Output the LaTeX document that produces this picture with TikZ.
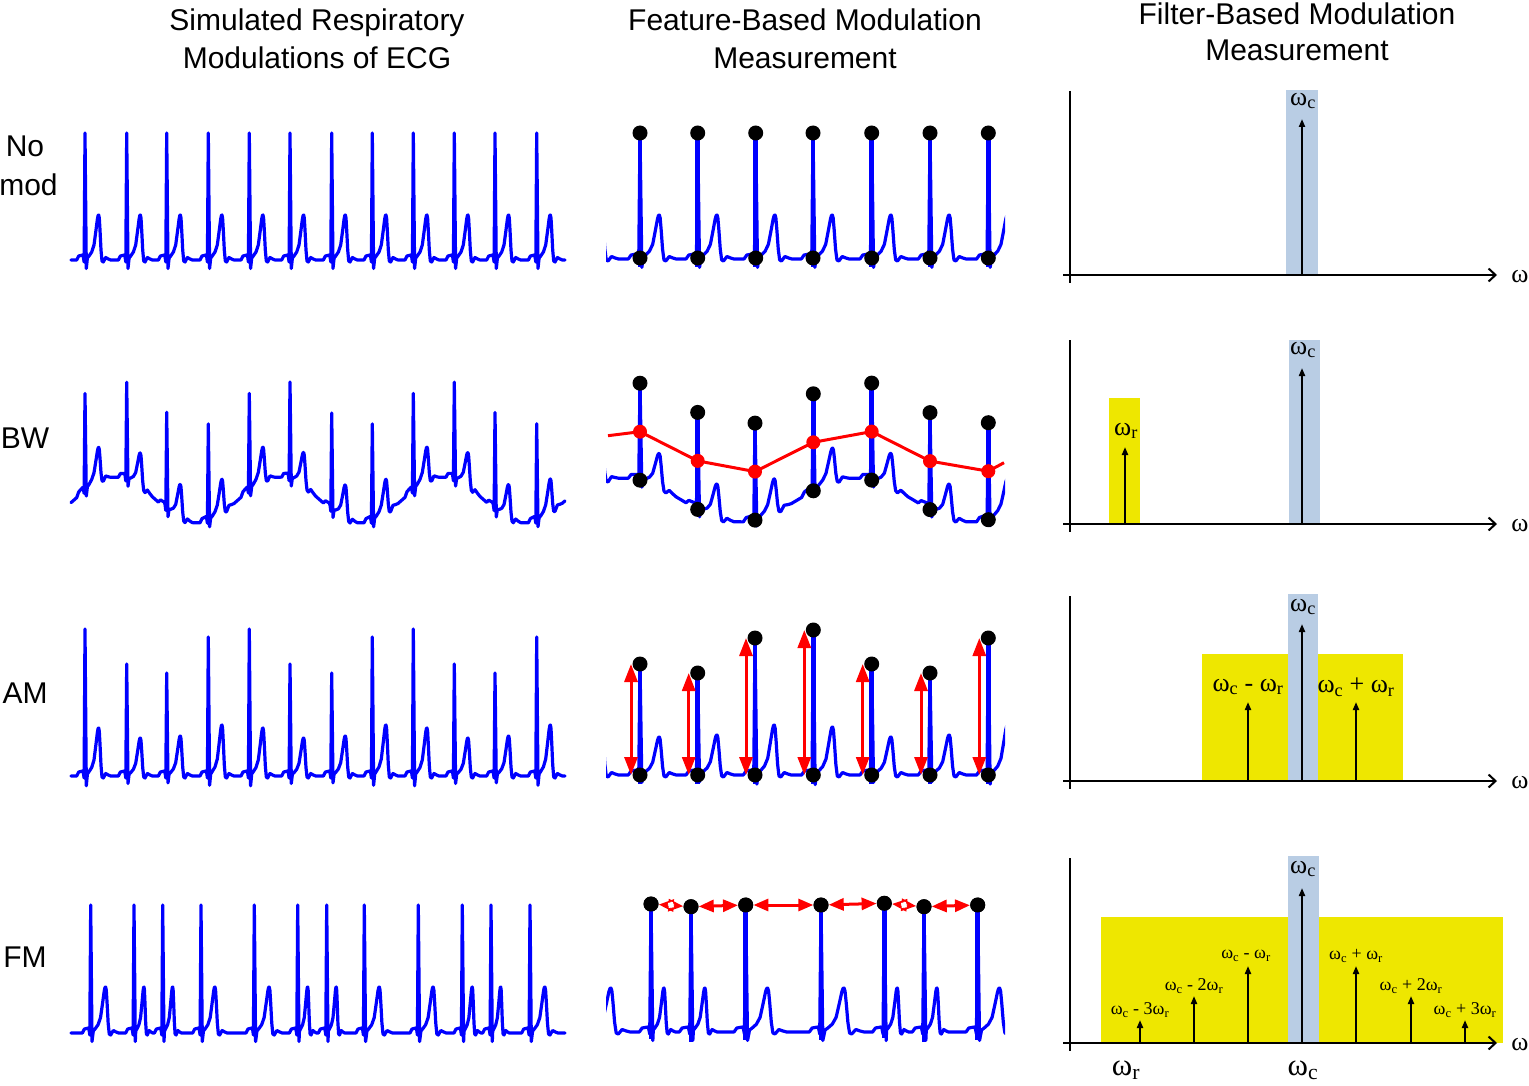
\documentclass[tikz,border=0pt]{standalone}
\usepackage{fontspec}
\setmainfont{Liberation Sans}
\newfontfamily\grk{Liberation Serif}
\usetikzlibrary{arrows.meta}
\definecolor{bandblue}{RGB}{185,205,228}
\definecolor{bandyel}{RGB}{238,231,0}
\newcommand\om[1]{ω\textsubscript{#1}}
% one ECG beat: #1 R position, #2 R amplitude, #3 T amplitude, #4 QRS x-scale, #5 T x-scale
\newcommand\bt[5]{%
 -- ({#1-8.3*#4},{blw(#1-8.3*#4)})
 -- ({#1-6.3*#4},{blw(#1-6.3*#4)-4})
 -- ({#1-2.3*#4},{blw(#1-2.3*#4)-5})
 -- ({#1-1.6*#4},{blw(#1-1.6*#4)-3})
 -- ({#1-0.9*#4},{blw(#1-0.9*#4)+2})
 -- ({#1},{blw(#1)-#2})
 -- ({#1+1.3*#4},{blw(#1+1.3*#4)+#2/15})
 -- ({#1+2.4*#5},{blw(#1+2.4*#5)-2})
 -- ({#1+4*#5},{blw(#1+4*#5)-4*#3/45})
 -- ({#1+6.7*#5},{blw(#1+6.7*#5)-8*#3/45})
 -- ({#1+9*#5},{blw(#1+9*#5)-15*#3/45})
 -- ({#1+11*#5},{blw(#1+11*#5)-30*#3/45})
 -- ({#1+12.4*#5},{blw(#1+12.4*#5)-41*#3/45})
 -- ({#1+13.1*#5},{blw(#1+13.1*#5)-44.5*#3/45})
 -- ({#1+13.7*#5},{blw(#1+13.7*#5)-#3})
 -- ({#1+14.3*#5},{blw(#1+14.3*#5)-42*#3/45})
 -- ({#1+15*#5},{blw(#1+15*#5)-30*#3/45})
 -- ({#1+16*#5},{blw(#1+16*#5)-10*#3/45})
 -- ({#1+17*#5},{blw(#1+17*#5)+1})
 -- ({#1+18.3*#5},{blw(#1+18.3*#5)+2})
 -- ({#1+20.7*#5},{blw(#1+20.7*#5)-2.5})
 -- ({#1+23.3*#5},{blw(#1+23.3*#5)-1})
 -- ({#1+25.7*#5},{blw(#1+25.7*#5)})
}
\tikzset{
 ecg/.style={blue, line width=3.2pt, line join=round, line cap=round},
 stem/.style={blue, line width=4.6pt},
 dot/.style={circle, fill=black, inner sep=0pt, minimum size=15pt},
 rdot/.style={circle, fill=red, inner sep=0pt, minimum size=14pt},
 redline/.style={red, line width=3pt, line join=round},
 amarr/.style={red, line width=3pt, <->, >={Triangle[length=18pt,width=13pt]}},
 fmarr/.style={red, line width=3pt, <->, >={Triangle[length=15pt,width=12pt]}},
 hollow/.style={circle, draw=red, densely dashed, line width=0.8pt, fill=white, inner sep=0pt, minimum size=7pt},
 axisline/.style={black, line width=2pt},
 xaxis/.style={black, line width=2pt, ->, >={Straight Barb[length=7pt,width=13pt]}},
 spike/.style={black, line width=2pt, ->, >={Triangle[length=8pt,width=6pt]}},
 lbl/.style={font=\fontsize{30}{36}\selectfont, inner sep=0pt, anchor=base},
 wlab/.style={font=\grk\fontsize{26}{30}\selectfont, inner sep=0pt},
 wsm/.style={font=\grk\fontsize{18}{21}\selectfont, inner sep=0pt},
 wbig/.style={font=\grk\fontsize{31}{35}\selectfont, inner sep=0pt},
}
\begin{document}
\begin{tikzpicture}[x=1pt,y=-1pt]
\useasboundingbox (0,0) rectangle (1529,1086);
% ---------------- titles ----------------
\node[lbl] (t1a) at (317,31) {Simulated Respiratory};
\node[lbl] (t1b) at (317,69) {Modulations of ECG};
\node[lbl] (t2a) at (805,31) {Feature-Based Modulation};
\node[lbl] (t2b) at (805,69) {Measurement};
\node[lbl] (t3a) at (1297,25) {Filter-Based Modulation};
\node[lbl] (t3b) at (1297,61) {Measurement};
% ---------------- row labels ----------------
\node[lbl] (r1a) at (25,157) {No};
\node[lbl] (r1b) at (28.5,196) {mod};
\node[lbl] (r2) at (25,448) {BW};
\node[lbl] (r3) at (25,703) {AM};
\node[lbl] (r4) at (25,967) {FM};
% ---------------- left column traces ----------------
\begin{scope}[declare function={blw(\x)=260;}]
\draw[ecg] (71,260) \foreach \PX in {85,126.7,166.7,208.3,249.3,290,331.7,372.3,413.3,454.3,495,536.7}{\bt{\PX}{127}{45}{1}{1}} -- (565,260);
\end{scope}
\begin{scope}[declare function={blw(\x)=500-23*sin((\x-74)/164*360);}]
\draw[ecg] (71,{blw(71)}) \foreach \PX in {85,126.7,166.7,208.3,249.3,290,331.7,372.3,413.3,454.3,495,536.7}{\bt{\PX}{97}{34}{1}{1}} -- (565,{blw(565)});
\end{scope}
\begin{scope}[declare function={blw(\x)=776;}]
\draw[ecg] (71,776) \foreach \PX/\RA/\TA in {85/147/48,126.7/112/38,166.7/103/40,208.3/139/51,249.3/147/48,290/112/38,331.7/103/40,372.3/139/51,413.3/147/48,454.3/112/38,495/103/40,536.7/139/51}{\bt{\PX}{\RA}{\TA}{1}{1}} -- (565,776);
\end{scope}
\begin{scope}[declare function={blw(\x)=1033;}]
\draw[ecg] (71,1033) \foreach \PX/\ST in {90.7/1.09,134/0.73,162.7/0.73,201/1.02,254.3/1.09,297.7/0.73,326.7/0.7,364.3/1.1,418.3/1.09,462.3/0.73,491/0.71,530/1.09}{\bt{\PX}{128}{46}{1}{\ST}} -- (565,1033);
\end{scope}
% ---------------- middle column traces ----------------
\begin{scope}
\clip (606,0) rectangle (1005,1086);
\begin{scope}[declare function={blw(\x)=259;}]
\draw[ecg] (560,259) \foreach \PX in {582.3,640,697.7,755.7,813,871.7,930,988.3,1046.3}{\bt{\PX}{126}{44}{1.41}{1.41}} -- (1060,259);
\end{scope}
\begin{scope}[declare function={blw(\x)=500-22*sin((\x-565.4)/232*360);}]
\draw[ecg] (560,{blw(560)}) \foreach \PX in {582.3,640,697.7,755,813.3,871.7,930,988.3,1046.3}{\bt{\PX}{97}{34}{1.41}{1.41}} -- (1060,{blw(1060)});
\end{scope}
\begin{scope}[declare function={blw(\x)=775;}]
\draw[ecg] (560,775) \foreach \PX/\RA/\TA in {582.3/145/48,640/111/38,697.7/102/40,755/137/50,813.3/145/48,871.7/111/38,930/102/40,988.3/137/50,1046.3/145/48}{\bt{\PX}{\RA}{\TA}{1.41}{1.41}} -- (1060,775);
\end{scope}
\begin{scope}[declare function={blw(\x)=1032;}]
\draw[ecg] (560,1032) \foreach \PX/\RA/\ST in {589/127/1.6,651/128/0.95,691/125.3/1.02,745.7/127/1.6,821/127/1.68,884.3/128.7/0.95,924/125.3/0.95,977.7/127/1.6}{\bt{\PX}{\RA}{44}{1.41}{\ST}} -- (1060,1032);
\end{scope}
\end{scope}
% row 1 middle: stems and dots
\foreach \PX [count=\i] in {640,697.7,755.7,813,871.7,930,988.3}{
  \draw[stem] (\PX,133) -- (\PX,267);
  \node[dot] (n\i t) at (\PX,133) {};
  \node[dot] (n\i b) at (\PX,258) {};
}
% row 2 middle: stems, red line and dots
\coordinate (bws) at (608,435.7);
\coordinate (bwe) at (1004,462.7);
\foreach \PX/\BY [count=\i] in {640/480.2,697.7/509.4,755/520.1,813.3/490.8,871.7/480.1,930/509.6,988.3/519.7}{
  \coordinate (w\i m) at (\PX,{\BY-48.5});
  \draw[stem] (\PX,{\BY-97}) -- (\PX,{\BY+7});
}
\draw[redline] (bws) -- (w1m) -- (w2m) -- (w3m) -- (w4m) -- (w5m) -- (w6m) -- (w7m) -- (bwe);
\foreach \PX/\BY [count=\i] in {640/480.2,697.7/509.4,755/520.1,813.3/490.8,871.7/480.1,930/509.6,988.3/519.7}{
  \node[rdot] (w\i c) at (w\i m) {};
  \node[dot] (w\i t) at (\PX,{\BY-97}) {};
  \node[dot] (w\i b) at (\PX,\BY) {};
}
% row 3 middle: AM arrows and dots
\foreach \PX/\TY [count=\i] in {640/664,697.7/673,755/638,813.3/630,871.7/664,930/673,988.3/638}{
  \coordinate (a\i t) at (\PX,\TY);
  \coordinate (a\i b) at (\PX,775);
  \draw[stem] (a\i t) -- ([yshift=-9pt]a\i b);
  \draw[amarr] ([xshift=-9pt]a\i t) -- ([xshift=-9pt]a\i b);
  \node[dot] (a\i tn) at (a\i t) {};
  \node[dot] (a\i bn) at (a\i b) {};
}
% row 4 middle: FM dots and interval arrows
\node[dot] (f1) at (651,904) {};
\node[dot] (f2) at (691,906.7) {};
\node[dot] (f3) at (745.7,905) {};
\node[dot] (f4) at (821,905) {};
\node[dot] (f5) at (884.3,903.3) {};
\node[dot] (f6) at (924,906.7) {};
\node[dot] (f7) at (977.7,905) {};
\foreach \n in {f1,f2,f3,f4,f5,f6,f7}{\draw[stem] (\n.center) -- ([yshift=-135pt]\n.center);}
\foreach \a/\b in {f1/f2,f2/f3,f3/f4,f4/f5,f5/f6,f6/f7}{\draw[fmarr] (\a) -- (\b);}
\node[hollow] (h1) at (671,905) {};
\node[hollow] (h2) at (904,905) {};
\foreach \n in {f1,f2,f3,f4,f5,f6,f7}{\node[dot] at (\n) {};}
% ---------------- right column ----------------
% row 1
\fill[bandblue] (1286,90) rectangle (1318,275);
\draw[axisline] (1070,91) -- (1070,283);
\draw[xaxis] (1063,275) -- (1497,275);
\draw[spike] (1302,275) -- (1302,119);
\node[wlab] (s1c) at (1303,101) {\om{c}};
\node[wlab] (s1w) at (1520,277) {ω};
% row 2
\fill[bandyel] (1109,398) rectangle (1140,524);
\fill[bandblue] (1289,340) rectangle (1320,524);
\draw[axisline] (1070,340) -- (1070,532);
\draw[xaxis] (1063,524) -- (1497,524);
\draw[spike] (1125,524) -- (1125,447);
\draw[spike] (1302,524) -- (1302,368);
\node[wlab] (s2r) at (1126,431) {\om{r}};
\node[wlab] (s2c) at (1303,350) {\om{c}};
\node[wlab] (s2w) at (1520,526) {ω};
% row 3
\fill[bandyel] (1202,654) rectangle (1403,781);
\fill[bandblue] (1288,594) rectangle (1318,781);
\draw[axisline] (1070,596) -- (1070,789);
\draw[xaxis] (1063,781) -- (1497,781);
\draw[spike] (1302,781) -- (1302,624);
\draw[spike] (1248,781) -- (1248,702);
\draw[spike] (1356,781) -- (1356,702);
\node[wlab] (s3c) at (1303,607) {\om{c}};
\node[wlab] (s3m) at (1248,687) {\om{c} - \om{r}};
\node[wlab] (s3p) at (1356,687) {\om{c} + \om{r}};
\node[wlab] (s3w) at (1520,783) {ω};
% row 4
\fill[bandyel] (1101,917) rectangle (1503,1043);
\fill[bandblue] (1288,856) rectangle (1319,1043);
\draw[axisline] (1070,858) -- (1070,1051);
\draw[xaxis] (1063,1043) -- (1497,1043);
\draw[spike] (1302,1043) -- (1302,888);
\draw[spike] (1248,1043) -- (1248,966);
\draw[spike] (1194,1043) -- (1194,996);
\draw[spike] (1140,1043) -- (1140,1020);
\draw[spike] (1356,1043) -- (1356,966);
\draw[spike] (1411,1043) -- (1411,996);
\draw[spike] (1465,1043) -- (1465,1020);
\node[wlab] (s4c) at (1303,869) {\om{c}};
\node[wsm] (s4m1) at (1246,956) {\om{c} - \om{r}};
\node[wsm] (s4m2) at (1194,986) {\om{c} - 2\om{r}};
\node[wsm] (s4m3) at (1140,1010) {\om{c} - 3\om{r}};
\node[wsm] (s4p1) at (1356,956) {\om{c} + \om{r}};
\node[wsm] (s4p2) at (1411,986) {\om{c} + 2\om{r}};
\node[wsm] (s4p3) at (1465,1010) {\om{c} + 3\om{r}};
\node[wbig] (s4br) at (1126,1070) {\om{r}};
\node[wbig] (s4bc) at (1303,1070) {\om{c}};
\node[wlab] (s4w) at (1520,1045) {ω};
\end{tikzpicture}
\end{document}
